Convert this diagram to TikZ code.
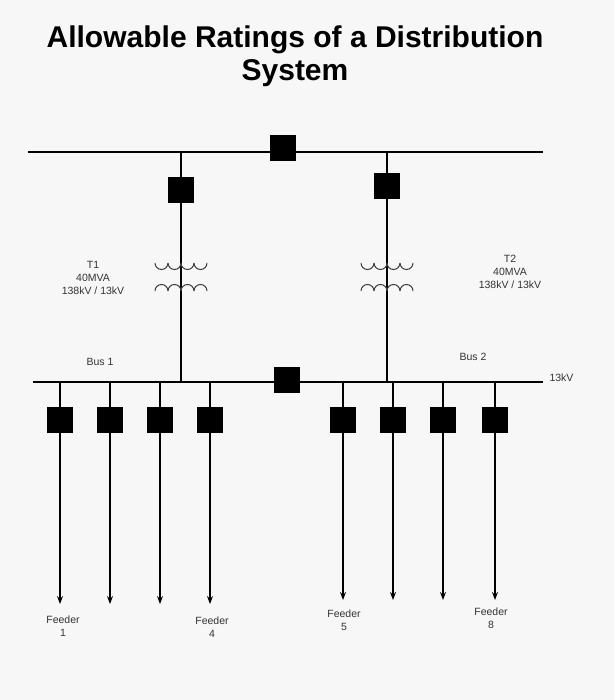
\documentclass[tikz,border=0pt]{standalone}
\usepackage{fontspec}
\setmainfont{Liberation Sans}
\usetikzlibrary{arrows.meta}
\begin{document}
\begin{tikzpicture}[x=1pt,y=-1pt,
  brk/.style={fill=black,draw=black,minimum size=25pt,inner sep=0pt},
  bus/.style={line width=2.8pt},
  wire/.style={line width=1.1pt},
  feed/.style={line width=1.1pt,-{Stealth[length=8pt,width=6pt]}},
  lbl/.style={font=\fontsize{10.5}{13}\selectfont,align=center,text=black!80},
  coil/.style={line width=1pt,black!75}]
\useasboundingbox[fill=gray!6] (0,0) rectangle (614,700);
\node[font=\bfseries\fontsize{30}{33}\selectfont,align=center] (title) at (295,56) {Allowable Ratings of a Distribution\\System};
% top bus
\coordinate (tbl) at (28,152); \coordinate (tbr) at (543,152);
\draw[bus] (tbl) -- (tbr);
\node[brk] (tb) at (283,148) {};
% lower bus
\coordinate (lbl) at (33,382); \coordinate (lbr) at (543,382);
\draw[bus] (lbl) -- (lbr);
\node[brk] (bb) at (287,380) {};
\node[lbl,anchor=west] (kv) at (546,378) {13kV};
% transformer drops
\foreach \x/\y/\n in {181/190/A,387/186/B}{
  \coordinate (t\n) at (\x,152); \coordinate (b\n) at (\x,382);
  \draw[wire] (t\n) -- (b\n);
  \node[brk] (k\n) at (\x,\y) {};
  \foreach \i in {0,1,2,3}{
    \draw[coil] (\x-26+13*\i,263) arc[start angle=180,end angle=0,radius=6.5];
    \draw[coil] (\x-26+13*\i,291) arc[start angle=180,end angle=360,radius=6.5];
  }
}
\node[lbl] (t1) at (93,278) {T1\\40MVA\\138kV / 13kV};
\node[lbl] (t2) at (510,272) {T2\\40MVA\\138kV / 13kV};
\node[lbl] (bus1) at (100,362) {Bus 1};
\node[lbl] (bus2) at (473,357) {Bus 2};
% feeders
\foreach \x/\e [count=\k] in {60/604,110/604,160/604,210/604,343/600,393/600,443/600,495/600}{
  \coordinate (fs\k) at (\x,382); \coordinate (fe\k) at (\x,\e);
  \node[brk] (fb\k) at (\x,420) {};
  \draw[feed] (fs\k) -- (fe\k);
}
\node[lbl] (f1) at (63,626) {Feeder\\1};
\node[lbl] (f4) at (212,627) {Feeder\\4};
\node[lbl] (f5) at (344,620) {Feeder\\5};
\node[lbl] (f8) at (491,618) {Feeder\\8};
\end{tikzpicture}
\end{document}
